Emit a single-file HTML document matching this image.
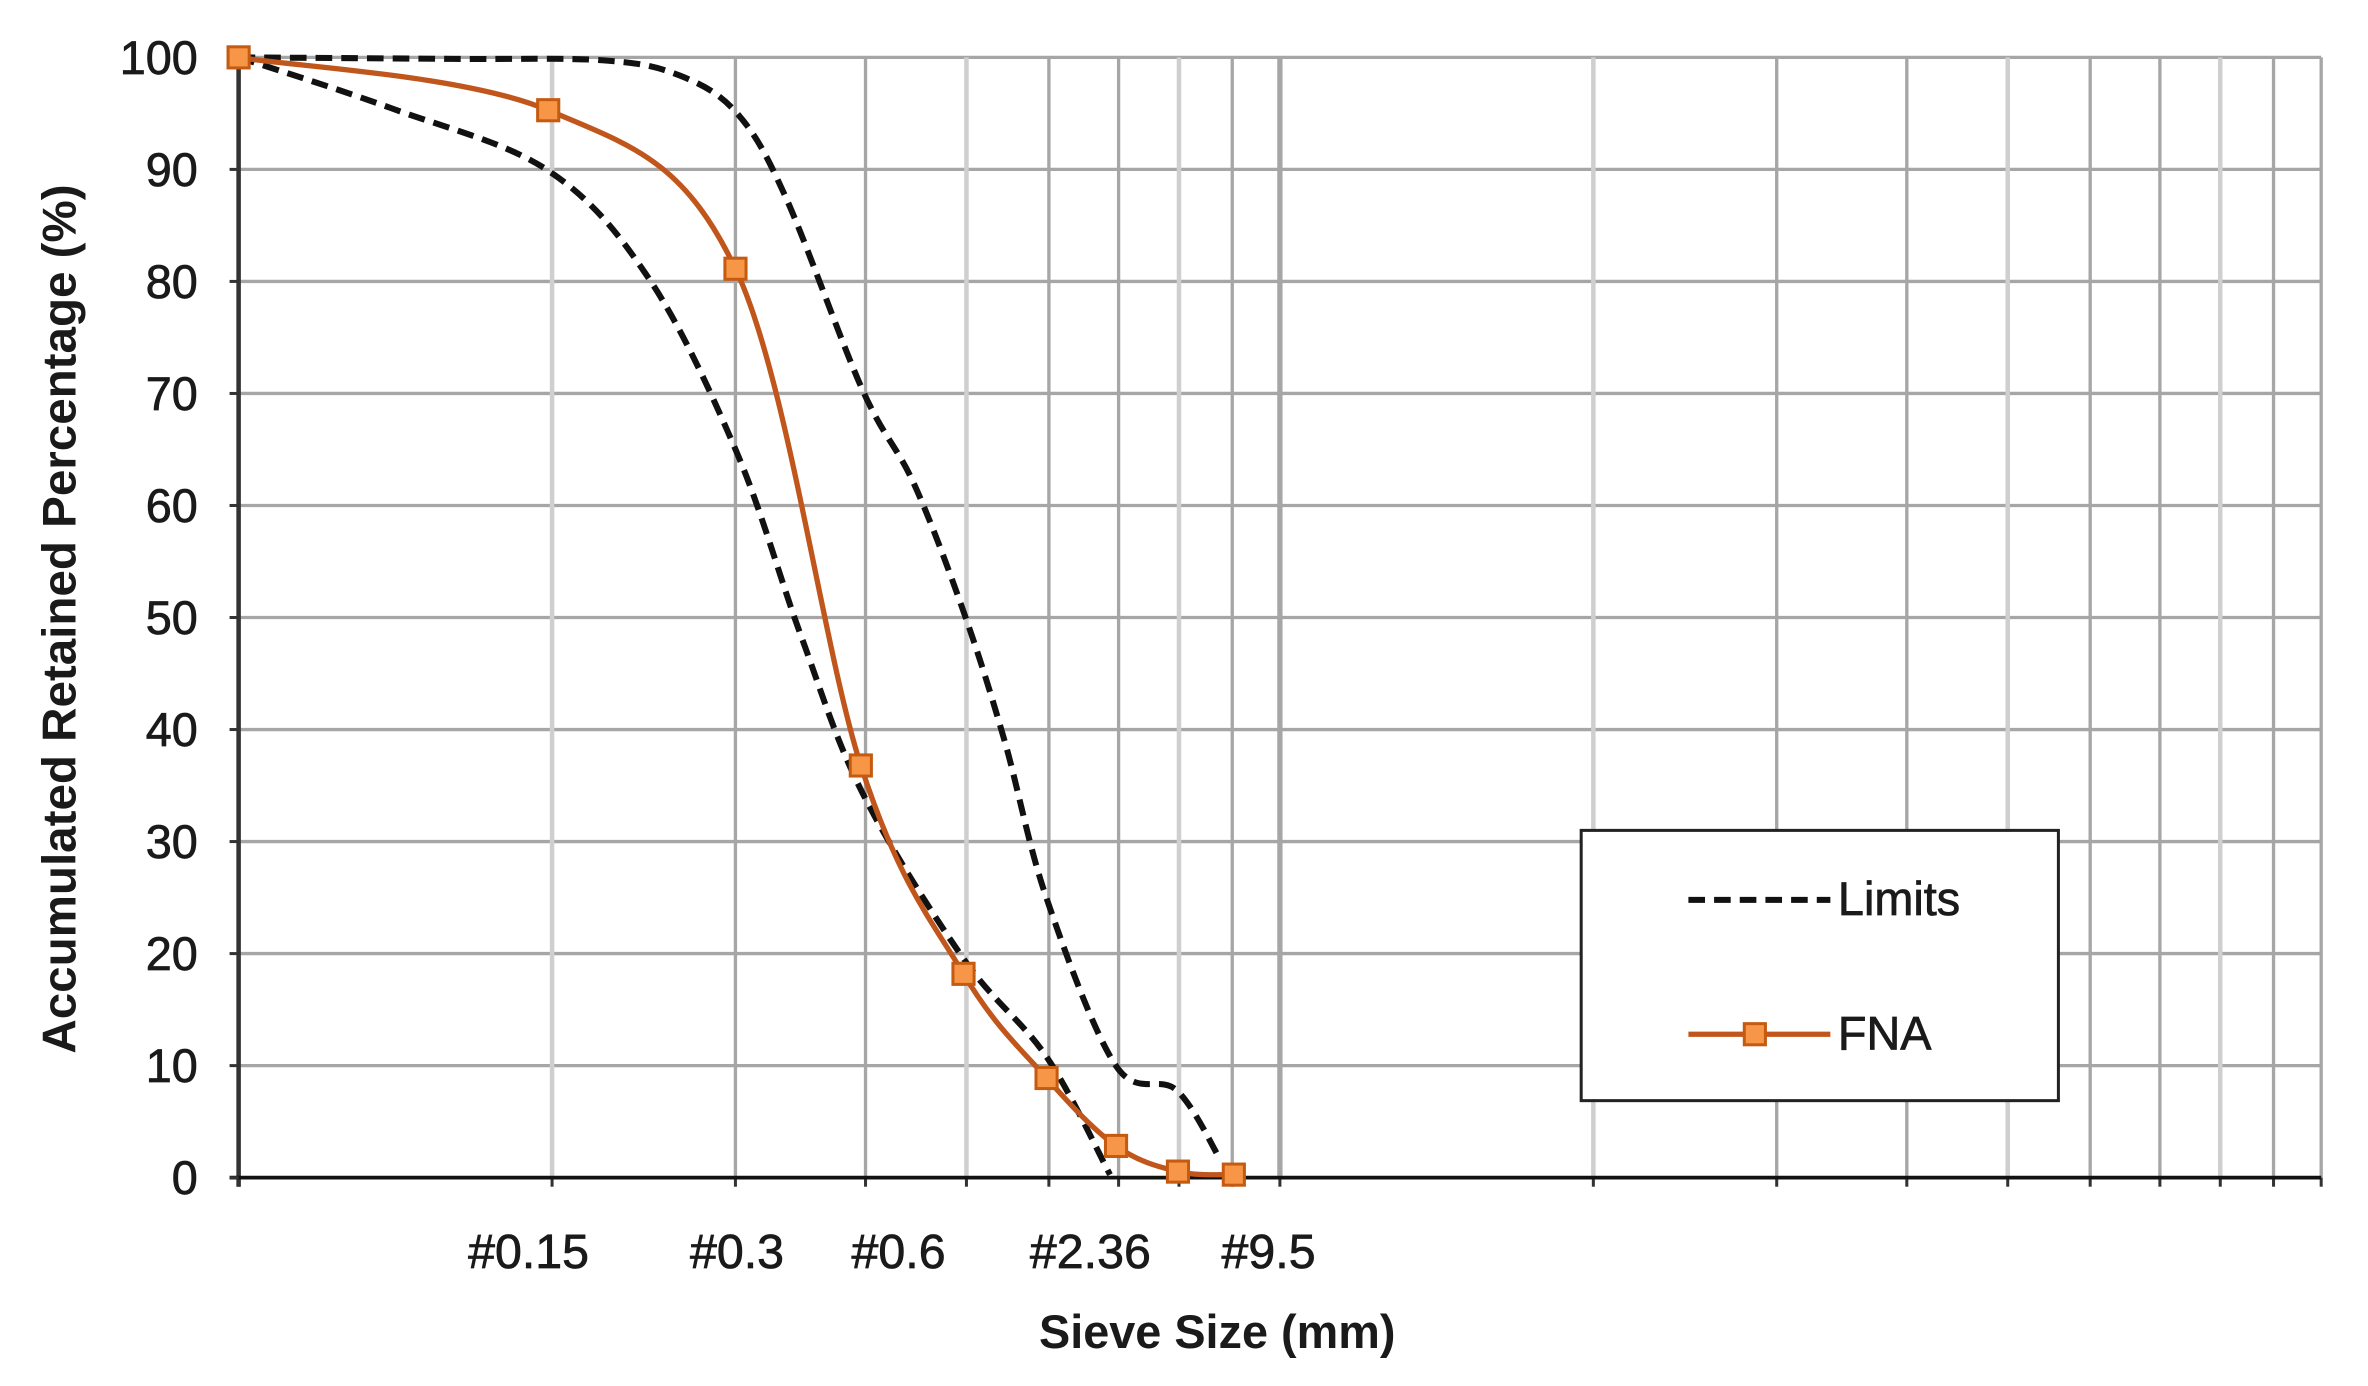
<!DOCTYPE html>
<html><head><meta charset="utf-8"><style>
html,body{margin:0;padding:0;background:#fff;}
svg{display:block;}
text{font-family:"Liberation Sans",Arial,sans-serif;fill:#1a1a1a;}
</style></head><body>
<svg id="s" width="2368" height="1386" viewBox="0 0 1568 918" preserveAspectRatio="none" xmlns="http://www.w3.org/2000/svg">
<g id="grid"></g>
<g id="series"></g>
<rect x="1047" y="550" width="316" height="179" fill="#fff" stroke="#222" stroke-width="2"/>
<line x1="1118" y1="596" x2="1212" y2="596" stroke="#111" stroke-width="4" stroke-dasharray="11,6"/>
<text x="1217" y="606" font-size="31" stroke="#1a1a1a" stroke-width="0.5">Limits</text>
<line x1="1118" y1="685" x2="1212" y2="685" stroke="#c0561b" stroke-width="3.5"/>
<rect x="1155" y="678" width="14" height="14" fill="#f79646" stroke="#c55a11" stroke-width="2"/>
<text x="1217" y="695" font-size="31" stroke="#1a1a1a" stroke-width="0.5">FNA</text>
<g font-size="32" text-anchor="middle" stroke="#1a1a1a" stroke-width="0.5">
<text x="350" y="840">#0.15</text>
<text x="488" y="840">#0.3</text>
<text x="595" y="840">#0.6</text>
<text x="722" y="840">#2.36</text>
<text x="840" y="840">#9.5</text>
</g>
<text x="806" y="893" font-size="31" font-weight="bold" text-anchor="middle">Sieve  Size (mm)</text>
<text transform="translate(50,410) rotate(-90)" font-size="31.5" font-weight="bold" text-anchor="middle" fill="#333">Accumulated Retained Percentage (%)</text>
</svg>
<script>
var NS="http://www.w3.org/2000/svg";
function el(p,t,a){var e=document.createElementNS(NS,t);for(var k in a)e.setAttribute(k,a[k]);p.appendChild(e);return e;}
var g=document.getElementById('grid'),sg=document.getElementById('series');
var X0=158,D=689.5,Y0=780,YS=7.42,XR=1537;
function x(v){return X0+D*Math.log10(v);}
function y(p){return Y0-p*YS;}
for(var p=10;p<=100;p+=10){el(g,'line',{x1:X0,y1:y(p),x2:XR,y2:y(p),stroke:'#a6a6a6','stroke-width':2.2});}
for(var d=1;d<=10;d*=10)for(var k=1;k<=10;k++){var v=d*k;if(v>100||(d==10&&k==1))continue;
 var light=(k==2||k==5||k==8);
 el(g,'line',{x1:x(v),y1:y(100),x2:x(v),y2:y(0),stroke:light?'#cfcfcf':'#a6a6a6','stroke-width':(v==10)?3.5:(light?3:2.2)});
 el(g,'line',{x1:x(v),y1:y(0),x2:x(v),y2:y(0)+6,stroke:'#333','stroke-width':2});}
el(g,'line',{x1:X0,y1:y(100),x2:X0,y2:y(0)+6,stroke:'#333','stroke-width':3});
el(g,'line',{x1:X0-6,y1:y(0),x2:XR,y2:y(0),stroke:'#111','stroke-width':2.5});
for(var p=0;p<=100;p+=10){el(g,'line',{x1:X0-6,y1:y(p),x2:X0,y2:y(p),stroke:'#333','stroke-width':2});
 var t=el(g,'text',{x:131,y:y(p)+11,'font-size':31,'text-anchor':'end',stroke:'#1a1a1a','stroke-width':0.5});t.textContent=p;}
function cr(pts){var s='M'+pts[0][0]+','+pts[0][1];for(var i=0;i<pts.length-1;i++){var p0=pts[i-1]||pts[i],p1=pts[i],p2=pts[i+1],p3=pts[i+2]||p2;var t=1/6;
 s+=' C'+(p1[0]+(p2[0]-p0[0])*t)+','+(p1[1]+(p2[1]-p0[1])*t)+' '+(p2[0]-(p3[0]-p1[0])*t)+','+(p2[1]-(p3[1]-p1[1])*t)+' '+p2[0]+','+p2[1];}return s;}
var lower=[[158,38],[260,72],[363,113],[430,185],[488,300],[530,420],[571,525],[638,635],[693,700],[735,778]];
var upper=[[158,38],[300,39],[400,40],[450,50],[488,75],[520,130],[571,258],[605,320],[638,405],[665,490],[693,595],[739,706],[779,722],[808,768]];
[lower,upper].forEach(function(a){el(sg,'path',{d:cr(a),fill:'none',stroke:'#111','stroke-width':4,'stroke-dasharray':'11,6'});});
var fna=[[158,38],[363,73],[487,178],[570,507],[638,645],[693,714],[739,759],[780,776],[817,778]];
el(sg,'path',{d:cr(fna),fill:'none',stroke:'#c0561b','stroke-width':3.5});
fna.forEach(function(q){el(sg,'rect',{x:q[0]-7,y:q[1]-7,width:14,height:14,fill:'#f79646',stroke:'#c55a11','stroke-width':2});});
</script>
</body></html>
